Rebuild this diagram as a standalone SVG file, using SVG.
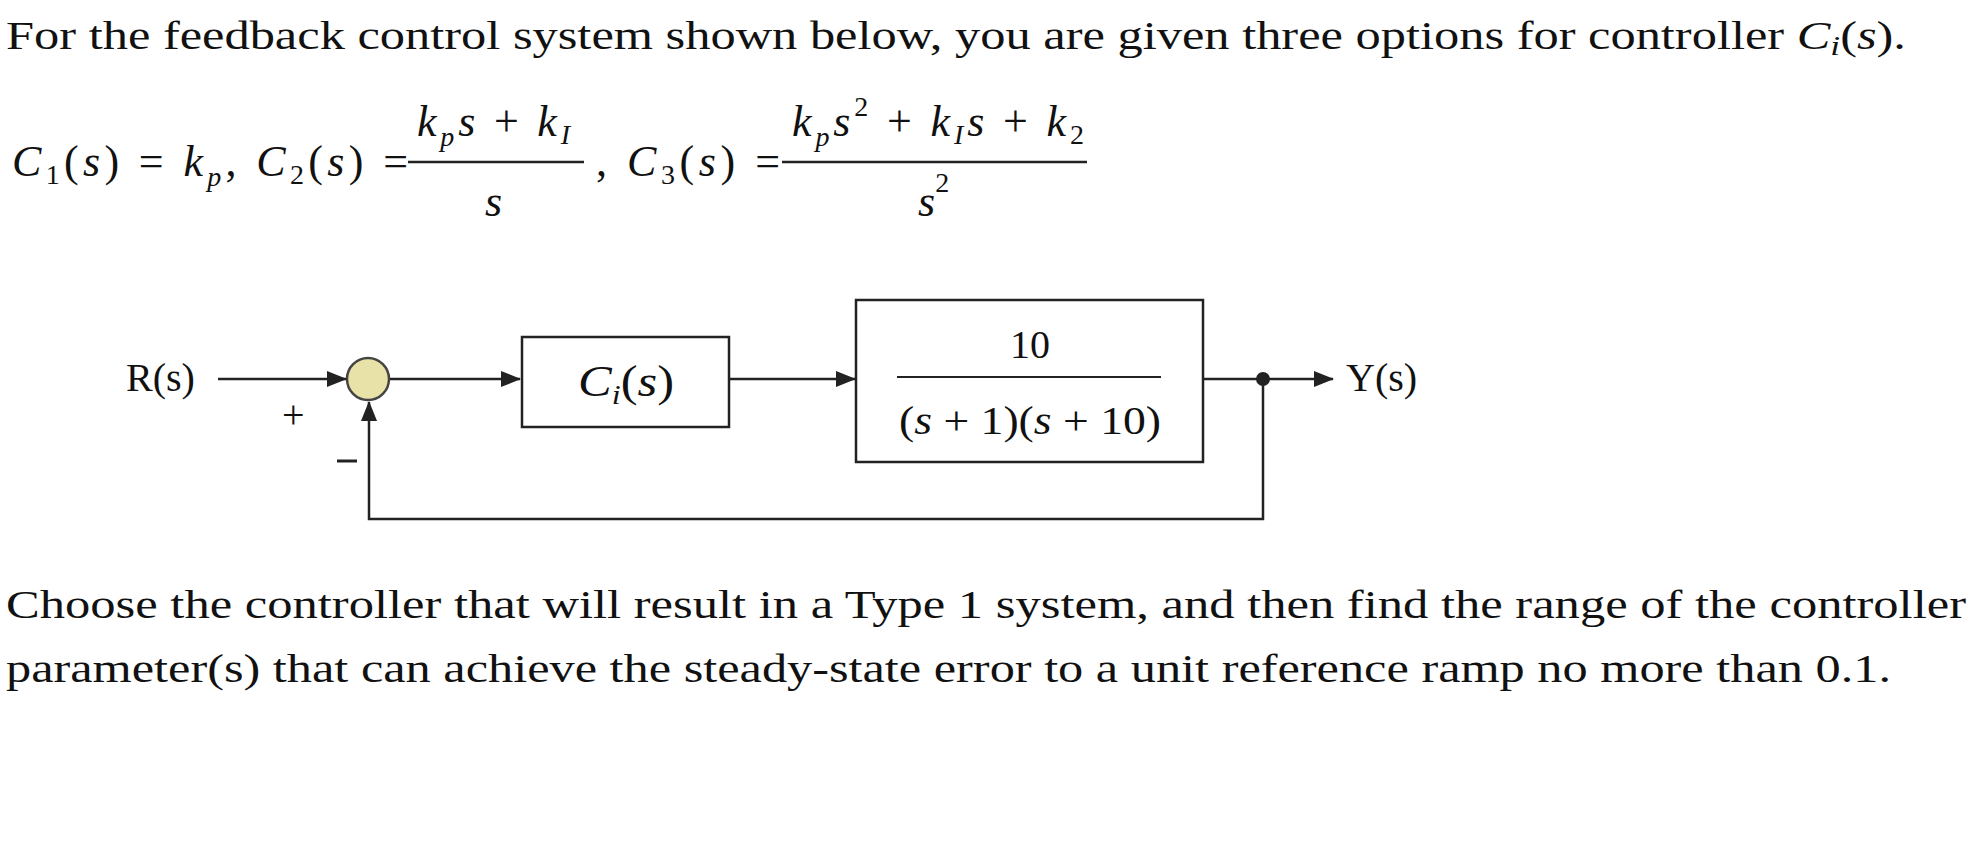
<svg xmlns="http://www.w3.org/2000/svg" width="1987" height="868" viewBox="0 0 1987 868">
<style>
text{font-family:"Liberation Serif","Times New Roman",serif;fill:#111}
.t{font-size:40px}
.m{font-size:44px;font-style:italic}
.n{font-size:40px}
.sub{font-size:28px}
.l{stroke:#222;stroke-width:2.5;fill:none}
</style>
<defs>
<marker id="A" viewBox="0 0 20 20" markerWidth="20" markerHeight="20" refX="19" refY="10" orient="auto" markerUnits="userSpaceOnUse"><path d="M0,2 L20,10 L0,18 z" fill="#222"/></marker>
</defs>
<rect width="1987" height="868" fill="#fff"/>
<g id="texts">
<text class="t" x="6" y="49" textLength="1900" lengthAdjust="spacingAndGlyphs">For the feedback control system shown below, you are given three options for controller <tspan font-style="italic">C</tspan><tspan font-style="italic" class="sub" dy="6">i</tspan><tspan dy="-6">(</tspan><tspan font-style="italic">s</tspan>).</text>
<text class="t" x="6" y="618" textLength="1960" lengthAdjust="spacingAndGlyphs">Choose the controller that will result in a Type 1 system, and then find the range of the controller</text>
<text class="t" x="6" y="682" textLength="1885" lengthAdjust="spacingAndGlyphs">parameter(s) that can achieve the steady-state error to a unit reference ramp no more than 0.1.</text>
</g>
<g id="equations">
<text class="m" x="12" y="176" textLength="396" lengthAdjust="spacing"><tspan>C</tspan><tspan class="sub" font-style="normal" dy="8">1</tspan><tspan font-style="normal" dy="-8">(</tspan>s<tspan font-style="normal">) = </tspan>k<tspan class="sub" dy="10">p</tspan><tspan font-style="normal" dy="-10">, </tspan>C<tspan class="sub" font-style="normal" dy="8">2</tspan><tspan font-style="normal" dy="-8">(</tspan>s<tspan font-style="normal">) =</tspan></text>
<text class="m" x="417" y="136" textLength="153" lengthAdjust="spacing">k<tspan class="sub" dy="10">p</tspan><tspan dy="-10">s</tspan><tspan font-style="normal"> + </tspan>k<tspan class="sub" dy="8">I</tspan></text>
<line class="l" x1="408" y1="162" x2="584" y2="162" stroke-width="2"/>
<text class="m" x="485" y="216">s</text>
<text class="m" x="596" y="176" textLength="184" lengthAdjust="spacing"><tspan font-style="normal">, </tspan>C<tspan class="sub" font-style="normal" dy="8">3</tspan><tspan font-style="normal" dy="-8">(</tspan>s<tspan font-style="normal">) =</tspan></text>
<text class="m" x="792" y="136" textLength="292" lengthAdjust="spacing">k<tspan class="sub" dy="10">p</tspan><tspan dy="-10">s</tspan><tspan class="sub" font-style="normal" dy="-20">2</tspan><tspan font-style="normal" dy="20"> + </tspan>k<tspan class="sub" dy="8">I</tspan><tspan dy="-8">s</tspan><tspan font-style="normal"> + </tspan>k<tspan class="sub" font-style="normal" dy="8">2</tspan></text>
<line class="l" x1="782" y1="162" x2="1087" y2="162" stroke-width="2"/>
<text class="m" x="918" y="216">s<tspan class="sub" font-style="normal" dy="-24">2</tspan></text>
</g>
<g id="sum">
<circle cx="368" cy="379" r="21" fill="#e8e2a8" stroke="#444" stroke-width="2.5"/>
<text class="n" x="282" y="428" font-size="34">+</text>
<line x1="337" y1="461" x2="357" y2="461" stroke="#222" stroke-width="3"/>
</g>
<g id="ci">
<rect x="522" y="337" width="207" height="90" fill="none" stroke="#222" stroke-width="2.5"/>
<text class="m" x="578" y="396" textLength="96" lengthAdjust="spacingAndGlyphs">C<tspan class="sub" dy="8">i</tspan><tspan font-style="normal" dy="-8">(</tspan>s<tspan font-style="normal">)</tspan></text>
</g>
<g id="plant">
<rect x="856" y="300" width="347" height="162" fill="none" stroke="#222" stroke-width="2.5"/>
<text class="n" x="1030" y="358" text-anchor="middle">10</text>
<line x1="897" y1="377" x2="1161" y2="377" stroke="#222" stroke-width="2"/>
<text class="n" x="899" y="434" font-size="44" textLength="262" lengthAdjust="spacingAndGlyphs">(<tspan font-style="italic">s</tspan> + 1)(<tspan font-style="italic">s</tspan> + 10)</text>
</g>
<g id="labels">
<text class="n" x="126" y="391">R(s)</text>
<text class="n" x="1346" y="391">Y(s)</text>
</g>
<g id="connectors">
<line class="l" x1="218" y1="379" x2="346" y2="379" marker-end="url(#A)"/>
<line class="l" x1="390" y1="379" x2="520" y2="379" marker-end="url(#A)"/>
<line class="l" x1="729" y1="379" x2="855" y2="379" marker-end="url(#A)"/>
<line class="l" x1="1203" y1="379" x2="1333" y2="379" marker-end="url(#A)"/>
<circle cx="1263" cy="379" r="7" fill="#222"/>
<polyline class="l" points="1263,379 1263,519 369,519 369,402" marker-end="url(#A)"/>
</g>
</svg>
